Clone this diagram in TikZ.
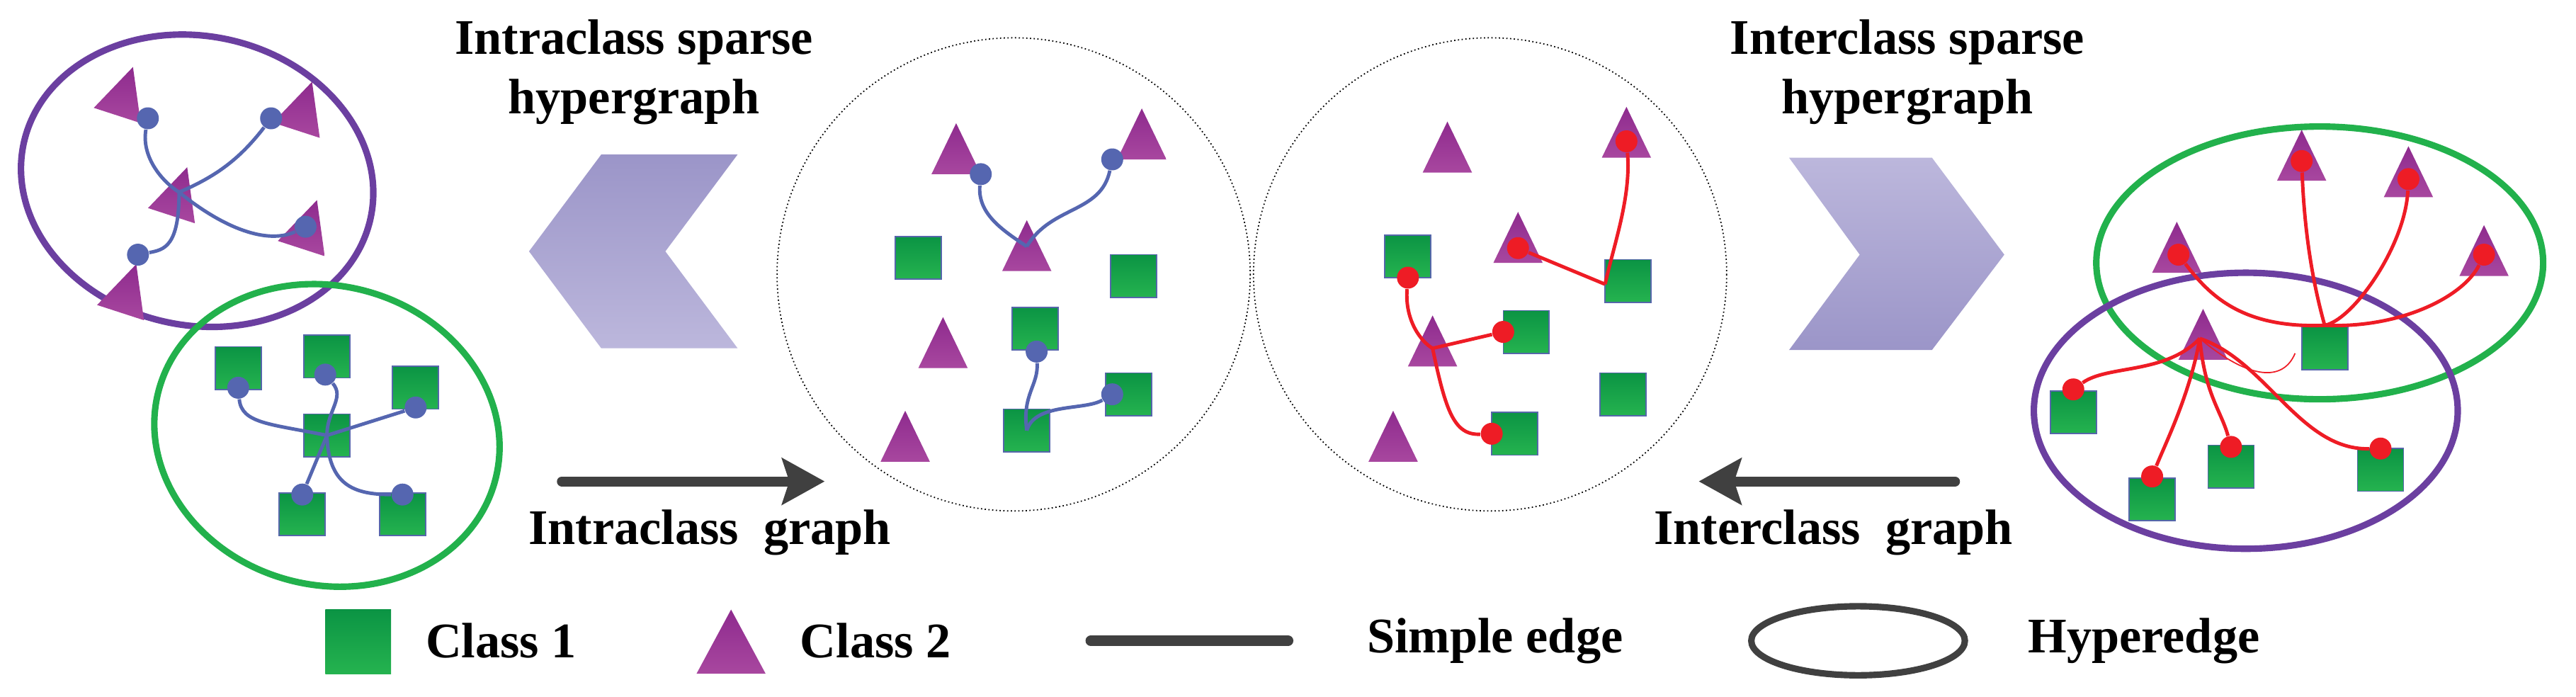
\documentclass[tikz,border=0pt]{standalone}
\usepackage{fontspec}
\setmainfont{Liberation Serif}
\usetikzlibrary{arrows.meta,positioning}
\definecolor{hpurple}{HTML}{6B3FA0}
\definecolor{hgreen}{HTML}{22B14C}
\definecolor{trtop}{HTML}{A8479F}
\definecolor{trbot}{HTML}{8E2B8E}
\definecolor{sqtop}{HTML}{25B34F}
\definecolor{sqbot}{HTML}{0B9444}
\definecolor{sqline}{HTML}{5566AA}
\definecolor{eblue}{HTML}{5566B0}
\definecolor{ered}{HTML}{EE1C25}
\definecolor{chdark}{HTML}{9B95C8}
\definecolor{chlight}{HTML}{BCB7DC}
\definecolor{agray}{HTML}{404040}
\tikzset{
  hedge/.style={line width=2.6pt},
  bedge/.style={eblue,line width=1.4pt},
  redge/.style={ered,line width=1.4pt},
  bdot/.style={circle,fill=eblue,inner sep=0pt,minimum size=3.1mm},
  rdot/.style={circle,fill=ered,inner sep=0pt,minimum size=3.1mm},
  bigarrow/.style={agray,line width=4pt,line cap=round,-{Stealth[length=6mm,width=6.5mm,inset=1mm]}},
  lbl/.style={font=\bfseries\fontsize{20}{24}\selectfont,align=center}
}
% triangle: x, y, rotation
\newcommand\tri[3]{\shade[bottom color=trtop,top color=trbot,shift={(#1,#2)},rotate=#3] (-15,15)--(0,-16)--(15,15)--cycle;}
% square: x, y
\newcommand\sq[2]{\shade[bottom color=sqtop,top color=sqbot,draw=sqline,line width=0.5pt] ({#1-14},{#2-13}) rectangle ({#1+14},{#2+13});}
\begin{document}
\begin{tikzpicture}[x=0.232mm,y=-0.232mm]
	\useasboundingbox (0,0) rectangle (1568,424);

	% intraclass hypergraph (left)
	\draw[hedge,hpurple,rotate around={-12:(120,110)}] (120,110) ellipse (108 and 88);
	\draw[hedge,hgreen,rotate around={-15:(199,265)}] (199,265) ellipse (106 and 91);
	\tri{76}{56}{-18} \tri{185}{65}{-18} \tri{109}{117}{-18} \tri{188}{137}{-18} \tri{78}{176}{-18}
	\sq{145}{224} \sq{199}{217} \sq{253}{236} \sq{199}{265} \sq{184}{313} \sq{245}{313}
	\coordinate (lc) at (109,117);
	\coordinate (gc) at (199,265);
	\node[bdot] (la) at (90,72) {};
	\node[bdot] (lb) at (165,72) {};
	\node[bdot] (ld) at (186,138) {};
	\node[bdot] (le) at (84,155) {};
	\draw[bedge] (la) .. controls (86,95) and (98,110) .. (lc) .. controls (140,142) and (165,148) .. (ld);
	\draw[bedge] (lb) .. controls (145,98) and (130,108) .. (lc);
	\draw[bedge] (lc) .. controls (109,150) and (100,152) .. (le);
	\node[bdot] (ga) at (145,236) {};
	\node[bdot] (gb) at (198,228) {};
	\node[bdot] (gd) at (253,248) {};
	\node[bdot] (ge) at (184,301) {};
	\node[bdot] (gf) at (245,301) {};
	\draw[bedge] (ga) .. controls (147,258) and (165,258) .. (gc);
	\draw[bedge] (gb) .. controls (210,242) and (199,250) .. (gc);
	\draw[bedge] (gd) -- (gc);
	\draw[bedge] (ge) -- (gc);
	\draw[bedge] (gf) .. controls (215,301) and (200,295) .. (gc);

	\node[lbl] (t1) at (386,44) {Intraclass sparse\\hypergraph};
	\shade[top color=chdark,bottom color=chlight] (366,94)--(449,94)--(405,153)--(449,212)--(366,212)--(322,153)--cycle;
	\coordinate (a1s) at (342,293);
	\coordinate (a1e) at (502,293);
	\draw[bigarrow] (a1s) -- (a1e);
	\node[lbl] (t2) at (432,324) {Intraclass\ \ graph};

	% middle circles
	\draw[densely dotted,line width=0.5pt] (617,167) circle (144);
	\draw[densely dotted,line width=0.5pt] (907,167) circle (144);
	\tri{582}{91}{0} \tri{695}{82}{0} \tri{625}{150}{0} \tri{574}{209}{0} \tri{551}{266}{0}
	\sq{559}{157} \sq{690}{168} \sq{630}{200} \sq{625}{262} \sq{687}{240}
	\coordinate (mc) at (625,150);
	\coordinate (ms) at (625,262);
	\node[bdot] (ma) at (597,106) {};
	\node[bdot] (mb) at (677,97) {};
	\node[bdot] (md) at (631,214) {};
	\node[bdot] (me) at (677,240) {};
	\draw[bedge] (ma) .. controls (595,130) and (610,140) .. (mc);
	\draw[bedge] (mb) .. controls (670,130) and (640,125) .. (mc);
	\draw[bedge] (md) .. controls (632,235) and (622,240) .. (ms);
	\draw[bedge] (me) .. controls (660,250) and (630,245) .. (ms);

	\tri{881}{90}{0} \tri{990}{81}{0} \tri{924}{145}{0} \tri{872}{208}{0} \tri{848}{266}{0}
	\sq{857}{156} \sq{991}{171} \sq{929}{202} \sq{988}{240} \sq{922}{264}
	\coordinate (nq) at (977,173);
	\coordinate (nt) at (872,212);
	\node[rdot] (na) at (990,86) {};
	\node[rdot] (nb) at (924,151) {};
	\node[rdot] (nc) at (857,169) {};
	\node[rdot] (nd) at (915,202) {};
	\node[rdot] (ne) at (908,264) {};
	\draw[redge] (na) .. controls (993,120) and (982,150) .. (nq);
	\draw[redge] (nb) -- (nq);
	\draw[redge] (nc) .. controls (855,195) and (865,208) .. (nt);
	\draw[redge] (nt) -- (nd);
	\draw[redge] (nt) .. controls (880,250) and (885,265) .. (ne);

	% interclass hypergraph (right)
	\node[lbl] (t3) at (1161,44) {Interclass sparse\\hypergraph};
	\shade[top color=chlight,bottom color=chdark] (1089,96)--(1176,96)--(1220,155)--(1176,213)--(1089,213)--(1132,155)--cycle;
	\coordinate (a2s) at (1190,293);
	\coordinate (a2e) at (1034,293);
	\draw[bigarrow] (a2s) -- (a2e);
	\node[lbl] (t4) at (1116,324) {Interclass\ \ graph};

	\draw[hedge,hgreen] (1412,160) ellipse (136 and 83);
	\draw[hedge,hpurple] (1367,250) ellipse (129 and 84);
	\tri{1401}{95}{0} \tri{1466}{105}{0} \tri{1325}{151}{0} \tri{1512}{153}{0} \tri{1341}{204}{0}
	\sq{1415}{212} \sq{1262}{251} \sq{1358}{284} \sq{1449}{286} \sq{1310}{304}
	\coordinate (rp) at (1415,198);
	\coordinate (rs) at (1339,206);
	\node[rdot] (ra) at (1401,98) {};
	\node[rdot] (rb) at (1466,109) {};
	\node[rdot] (rc) at (1326,155) {};
	\node[rdot] (rd) at (1512,155) {};
	\node[rdot] (re) at (1262,237) {};
	\node[rdot] (rf) at (1358,272) {};
	\node[rdot] (rg) at (1449,273) {};
	\node[rdot] (rh) at (1310,290) {};
	\draw[redge] (ra) .. controls (1403,150) and (1410,180) .. (rp);
	\draw[redge] (rb) .. controls (1464,150) and (1432,195) .. (rp);
	\draw[redge] (rc) .. controls (1345,180) and (1365,200) .. (rp);
	\draw[redge] (rd) .. controls (1500,180) and (1462,200) .. (rp);
	\draw[redge] (rs) .. controls (1318,228) and (1283,222) .. (re);
	\draw[redge] (rs) .. controls (1342,240) and (1352,250) .. (rf);
	\draw[redge] (rs) .. controls (1380,220) and (1400,274) .. (rg);
	\draw[redge] (rs) .. controls (1333,240) and (1318,270) .. (rh);
	\draw[ered,line width=0.5pt] (rs) .. controls (1370,232) and (1390,232) .. (1397,215);

	% legend
	\shade[bottom color=sqtop,top color=sqbot] (198,371) rectangle (238,410);
	\shade[bottom color=trtop,top color=trbot] (424,410)--(445,371)--(466,410)--cycle;
	\node[lbl] (c1) at (305,390) {Class 1};
	\node[lbl] (c2) at (533,390) {Class 2};
	\coordinate (ls) at (664,390);
	\coordinate (le) at (784,390);
	\draw[agray,line width=4.3pt,line cap=round] (ls) -- (le);
	\node[lbl] (se) at (910,390) {Simple edge};
	\draw[agray,line width=2.6pt] (1131,390) ellipse (65 and 21);
	\node[lbl] (he) at (1305,390) {Hyperedge};
\end{tikzpicture}
\end{document}
